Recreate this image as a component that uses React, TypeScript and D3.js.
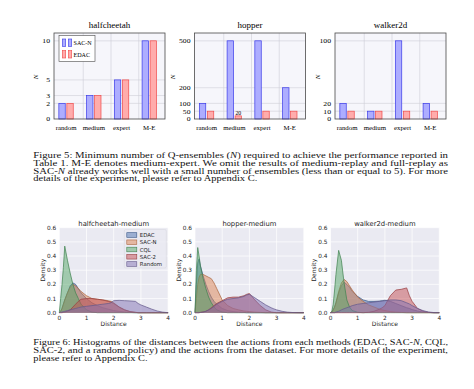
import React from "react";
import * as d3 from "d3";

// ---- Figure 5 data (bar charts) ----
const barCats = ["random", "medium", "expert", "M-E"];
const barMethods = ["SAC-N", "EDAC"];
const cheetahSacN = [2, 3, 5, 10];
const cheetahEdac = [2, 3, 5, 10];
const hopperSacN = [100, 500, 500, 200];
const hopperEdac = [50, 20, 50, 50];
const walkerSacN = [20, 10, 100, 20];
const walkerEdac = [10, 10, 10, 10];
const cheetahTicks = [0, 2, 3, 5, 10];
const hopperTicks = [0, 50, 100, 200, 500];
const walkerTicks = [0, 10, 20, 100];

// ---- Figure 6 data (distance histograms) ----
const histMethods = ["EDAC", "SAC-N", "CQL", "SAC-2", "Random"];
const histColors = ["#4c72b0", "#dd8452", "#55a868", "#c44e52", "#8172b3"];
const distGrid = [0, 0.05, 0.1, 0.15, 0.2, 0.3, 0.4, 0.5, 0.6, 0.7, 0.8, 1.0, 1.2, 1.4, 1.6, 1.8, 1.9, 2.0, 2.2, 2.4, 2.6, 2.8, 2.9, 3.0, 3.2, 3.4, 3.6, 3.8, 4.0];
const distTicksX = [0, 1, 2, 3, 4];
const distTicksY = [0, 0.1, 0.2, 0.3, 0.4, 0.5, 0.6];

const cheetahDist = [
  [0, 0.01, 0.03, 0.06, 0.09, 0.14, 0.19, 0.21, 0.2, 0.17, 0.14, 0.1, 0.07, 0.05, 0.035, 0.025, 0.02, 0.015, 0.01, 0.005, 0.002, 0, 0, 0, 0, 0, 0, 0, 0],
  [0, 0.01, 0.03, 0.06, 0.09, 0.14, 0.18, 0.2, 0.19, 0.17, 0.15, 0.12, 0.1, 0.095, 0.09, 0.085, 0.08, 0.07, 0.04, 0.02, 0.008, 0.003, 0, 0, 0, 0, 0, 0, 0],
  [0, 0.1, 0.2, 0.32, 0.47, 0.37, 0.28, 0.2, 0.14, 0.1, 0.06, 0.02, 0.005, 0, 0, 0, 0, 0, 0, 0, 0, 0, 0, 0, 0, 0, 0, 0, 0],
  [0, 0, 0, 0.002, 0.005, 0.01, 0.02, 0.04, 0.06, 0.08, 0.095, 0.1, 0.1, 0.095, 0.09, 0.08, 0.075, 0.065, 0.04, 0.02, 0.008, 0.002, 0, 0, 0, 0, 0, 0, 0],
  [0, 0.003, 0.005, 0.008, 0.01, 0.015, 0.02, 0.025, 0.03, 0.035, 0.04, 0.045, 0.05, 0.055, 0.06, 0.065, 0.07, 0.085, 0.087, 0.085, 0.083, 0.08, 0.065, 0.055, 0.04, 0.025, 0.012, 0.004, 0],
];
const hopperDist = [
  [0, 0.2, 0.35, 0.38, 0.33, 0.26, 0.2, 0.15, 0.11, 0.08, 0.06, 0.03, 0.015, 0.008, 0.004, 0.002, 0, 0, 0, 0, 0, 0, 0, 0, 0, 0, 0, 0, 0],
  [0, 0.1, 0.2, 0.25, 0.27, 0.27, 0.26, 0.25, 0.24, 0.21, 0.17, 0.09, 0.05, 0.03, 0.02, 0.012, 0.01, 0.008, 0.004, 0.002, 0, 0, 0, 0, 0, 0, 0, 0, 0],
  [0, 0.3, 0.46, 0.4, 0.33, 0.24, 0.17, 0.11, 0.07, 0.04, 0.02, 0.005, 0, 0, 0, 0, 0, 0, 0, 0, 0, 0, 0, 0, 0, 0, 0, 0, 0],
  [0, 0, 0, 0, 0.002, 0.005, 0.01, 0.02, 0.035, 0.05, 0.065, 0.085, 0.105, 0.11, 0.11, 0.12, 0.13, 0.135, 0.09, 0.05, 0.02, 0.005, 0.002, 0, 0, 0, 0, 0, 0],
  [0, 0, 0, 0, 0.002, 0.005, 0.01, 0.02, 0.03, 0.045, 0.06, 0.08, 0.095, 0.1, 0.105, 0.115, 0.125, 0.13, 0.105, 0.08, 0.055, 0.035, 0.027, 0.02, 0.01, 0.004, 0.001, 0, 0],
];
const walkerDist = [
  [0, 0.005, 0.02, 0.04, 0.07, 0.14, 0.19, 0.215, 0.2, 0.18, 0.15, 0.115, 0.09, 0.08, 0.08, 0.082, 0.085, 0.088, 0.08, 0.065, 0.05, 0.035, 0.03, 0.022, 0.012, 0.005, 0.002, 0, 0],
  [0, 0.005, 0.02, 0.04, 0.07, 0.15, 0.21, 0.235, 0.22, 0.19, 0.16, 0.11, 0.08, 0.055, 0.04, 0.025, 0.02, 0.015, 0.008, 0.004, 0.002, 0, 0, 0, 0, 0, 0, 0, 0],
  [0, 0.01, 0.06, 0.16, 0.27, 0.44, 0.37, 0.21, 0.09, 0.04, 0.015, 0.003, 0, 0, 0, 0, 0, 0, 0, 0, 0, 0, 0, 0, 0, 0, 0, 0, 0],
  [0, 0, 0, 0, 0, 0, 0, 0, 0, 0, 0, 0, 0, 0.003, 0.01, 0.025, 0.035, 0.05, 0.12, 0.16, 0.165, 0.175, 0.12, 0.08, 0.03, 0.01, 0.002, 0, 0],
  [0, 0, 0, 0, 0.005, 0.01, 0.02, 0.028, 0.035, 0.042, 0.05, 0.06, 0.065, 0.07, 0.075, 0.08, 0.082, 0.085, 0.09, 0.09, 0.085, 0.07, 0.062, 0.05, 0.03, 0.015, 0.005, 0.001, 0],
];

const SERIF = "Liberation Serif, DejaVu Serif, Times New Roman, serif";
const SANS = "DejaVu Sans, sans-serif";

const sacFill = "#adadff";
const sacStroke = "#3a3ae8";
const edacFill = "#ffacac";
const edacStroke = "#f04a4a";

function SText(props: any) {
  const { x, y, sx = 1.15, children, ...rest } = props;
  return (
    <text transform={`translate(${x},${y}) scale(${sx},1)`} {...rest}>
      {children}
    </text>
  );
}

function BarPanel(props: any) {
  const { title, sacN, edac, ticks, yMax, left, nOffset, legend, note } = props;
  const top = 33;
  const bottom = 119;
  const w = 111;
  const y = d3.scaleLinear().domain([0, yMax]).range([bottom, top]);
  const x = d3.scaleBand().domain(barCats).range([left + 1.5, left + w + 1.5]);
  const bw = x.bandwidth();
  const pc = (c: string) => (x(c) as number) + bw * 0.38;
  const barW = 6.4;
  return (
    <g>
      <rect x={left} y={top} width={w} height={bottom - top} fill="#f6f6fb" />
      {ticks.filter((t: number) => t > 0).map((t: number) => (
        <line key={"h" + t} x1={left} x2={left + w} y1={y(t)} y2={y(t)} stroke="#cfcfd6" strokeWidth={0.6} />
      ))}
      {barCats.slice(1).map((c) => (
        <line key={"v" + c} x1={x(c)} x2={x(c)} y1={top} y2={bottom} stroke="#cfcfd6" strokeWidth={0.6} />
      ))}
      {barCats.map((c, i) => (
        <g key={c}>
          <rect x={pc(c) - 0.8 - barW} y={y(sacN[i])} width={barW} height={bottom - y(sacN[i])}
            fill={sacFill} stroke={sacStroke} strokeWidth={0.7} />
          <rect x={pc(c) + 0.8} y={y(edac[i])} width={barW} height={bottom - y(edac[i])}
            fill={edacFill} stroke={edacStroke} strokeWidth={0.7} />
        </g>
      ))}
      {note && (
        <SText x={pc(barCats[1]) + 0.8 + barW / 2} y={y(hopperEdac[1]) - 1.3} fontSize={5.5}
          fontFamily={SERIF} textAnchor="middle" sx={1.05}>{note}</SText>
      )}
      <rect x={left} y={top} width={w} height={bottom - top} fill="none" stroke="#4a4a4a" strokeWidth={0.8} />
      {ticks.map((t: number) => (
        <SText key={"t" + t} x={left - 4} y={y(t) + 2.4} fontSize={7} fontFamily={SERIF} textAnchor="end" sx={1.1}>{t}</SText>
      ))}
      {barCats.map((c) => (
        <SText key={"l" + c} x={pc(c)} y={129.5} fontSize={6.8} fontFamily={SERIF} textAnchor="middle" sx={1.0}>{c}</SText>
      ))}
      <SText x={left + w / 2} y={27.5} fontSize={7.5} fontFamily={SERIF} textAnchor="middle" sx={1.2}>{title}</SText>
      <text transform={`translate(${left - nOffset},77) rotate(-90)`} fontSize={7} fontFamily={SERIF}
        fontStyle="italic" textAnchor="middle">N</text>
      {legend && (
        <g>
          <rect x={left + 5} y={35.5} width={36} height={26} fill="white" stroke="#4a4a4a" strokeWidth={0.6} />
          {barMethods.map((m, i) => {
            const cy = 43 + i * 11.5;
            const f = i === 0 ? sacFill : edacFill;
            const s = i === 0 ? sacStroke : edacStroke;
            return (
              <g key={m}>
                <rect x={left + 8.3} y={cy - 4} width={3.4} height={7.5} fill={f} stroke={s} strokeWidth={0.6} />
                <rect x={left + 14.3} y={cy - 4} width={3.4} height={7.5} fill={f} stroke={s} strokeWidth={0.6} />
                <SText x={left + 19.5} y={cy + 2} fontSize={5.8} fontFamily={SERIF} sx={1.05}>{m}</SText>
              </g>
            );
          })}
        </g>
      )}
    </g>
  );
}

function HistPanel(props: any) {
  const { title, series, left, legend } = props;
  const top = 227.7;
  const bottom = 312.7;
  const w = 108.8;
  const x = d3.scaleLinear().domain([0, 4]).range([left, left + w]);
  const y = d3.scaleLinear().domain([0, 0.6]).range([bottom, top]);
  const area = d3.area<number>()
    .x((_, i) => x(distGrid[i]))
    .y0(y(0))
    .y1((d) => y(d));
  const line = d3.line<number>()
    .x((_, i) => x(distGrid[i]))
    .y((d) => y(d));
  return (
    <g>
      <rect x={left} y={top} width={w} height={bottom - top} fill="#eaeaf2" />
      {distTicksX.map((t) => (
        <line key={"gx" + t} x1={x(t)} x2={x(t)} y1={top} y2={bottom} stroke="white" strokeWidth={0.7} />
      ))}
      {distTicksY.map((t) => (
        <line key={"gy" + t} x1={left} x2={left + w} y1={y(t)} y2={y(t)} stroke="white" strokeWidth={0.7} />
      ))}
      {series.map((vals: number[], i: number) => (
        <g key={histMethods[i]}>
          <path d={area(vals) as string} fill={histColors[i]} fillOpacity={0.5} />
          <path d={line(vals) as string} fill="none" stroke={d3.color(histColors[i])!.darker(0.7).toString()}
            strokeWidth={0.8} strokeOpacity={0.9} />
        </g>
      ))}
      {distTicksY.map((t) => (
        <text key={"ty" + t} x={left - 3} y={y(t) + 2.1} fontSize={5.8} fontFamily={SANS} fill="#262626"
          textAnchor="end">{t.toFixed(1)}</text>
      ))}
      {distTicksX.map((t) => (
        <text key={"tx" + t} x={x(t)} y={bottom + 6.8} fontSize={5.8} fontFamily={SANS} fill="#262626"
          textAnchor="middle">{t}</text>
      ))}
      <text x={left + w / 2} y={bottom + 13.5} fontSize={6} fontFamily={SANS} fill="#262626"
        textAnchor="middle">Distance</text>
      <text transform={`translate(${left - 14.5},${(top + bottom) / 2}) rotate(-90)`} fontSize={6}
        fontFamily={SANS} fill="#262626" textAnchor="middle">Density</text>
      <text x={left + w / 2} y={top - 2} fontSize={6.8} fontFamily={SANS} fill="#262626"
        textAnchor="middle">{title}</text>
      {legend && (
        <g>
          <rect x={left + 65} y={229.5} width={42} height={38.5} rx={1.5} fill="#eaeaf2" fillOpacity={0.85}
            stroke="#d6d6de" strokeWidth={0.5} />
          {histMethods.map((m, i) => {
            const cy = 235 + i * 7.25;
            return (
              <g key={m}>
                <rect x={left + 67.5} y={cy - 2.3} width={10} height={4.6} fill={histColors[i]} fillOpacity={0.5}
                  stroke={d3.color(histColors[i])!.darker(0.7).toString()} strokeWidth={0.6} />
                <text x={left + 80.5} y={cy + 2} fontSize={5.4} fontFamily={SANS} fill="#262626">{m}</text>
              </g>
            );
          })}
        </g>
      )}
    </g>
  );
}

function Caption(props: any) {
  const { lines, y0, step } = props;
  return (
    <g fontFamily={SERIF} fontSize={7.6} fill="#111">
      {lines.map((ln: any, i: number) => (
        <text key={i} x={33.3} y={y0 + i * step} textLength={ln.w} lengthAdjust="spacingAndGlyphs">
          {ln.parts.map((p: any, j: number) => (
            <tspan key={j} fontStyle={p.it ? "italic" : "normal"}>{p.t}</tspan>
          ))}
        </text>
      ))}
    </g>
  );
}

const fig5Lines = [
  { w: 414.7, parts: [{ t: "Figure 5: Minimum number of Q-ensembles (" }, { t: "N", it: true }, { t: ") required to achieve the performance reported in" }] },
  { w: 414.7, parts: [{ t: "Table 1.  M-E denotes medium-expert.  We omit the results of medium-replay and full-replay as" }] },
  { w: 414.7, parts: [{ t: "SAC-" }, { t: "N", it: true }, { t: " already works well with a small number of ensembles (less than or equal to 5). For more" }] },
  { w: 224, parts: [{ t: "details of the experiment, please refer to Appendix C." }] },
];
const fig6Lines = [
  { w: 414.7, parts: [{ t: "Figure 6: Histograms of the distances between the actions from each methods (EDAC, SAC-" }, { t: "N", it: true }, { t: ", CQL," }] },
  { w: 414.7, parts: [{ t: "SAC-2, and a random policy) and the actions from the dataset. For more details of the experiment," }] },
  { w: 114.3, parts: [{ t: "please refer to Appendix C." }] },
];

export default function App() {
  return (
    <svg width={474} height={389} style={{ position: "absolute", left: 0, top: 0, background: "white" }}>
      <BarPanel title="halfcheetah" sacN={cheetahSacN} edac={cheetahEdac} ticks={cheetahTicks} yMax={11}
        left={54} nOffset={16} legend />
      <BarPanel title="hopper" sacN={hopperSacN} edac={hopperEdac} ticks={hopperTicks} yMax={550}
        left={194.5} nOffset={19.5} note="20" />
      <BarPanel title="walker2d" sacN={walkerSacN} edac={walkerEdac} ticks={walkerTicks} yMax={110}
        left={335} nOffset={15} />
      <Caption lines={fig5Lines} y0={158.2} step={7.67} />
      <HistPanel title="halfcheetah-medium" series={cheetahDist} left={59.3} legend />
      <HistPanel title="hopper-medium" series={hopperDist} left={195} />
      <HistPanel title="walker2d-medium" series={walkerDist} left={330.5} />
      <Caption lines={fig6Lines} y0={344.8} step={8.1} />
    </svg>
  );
}
